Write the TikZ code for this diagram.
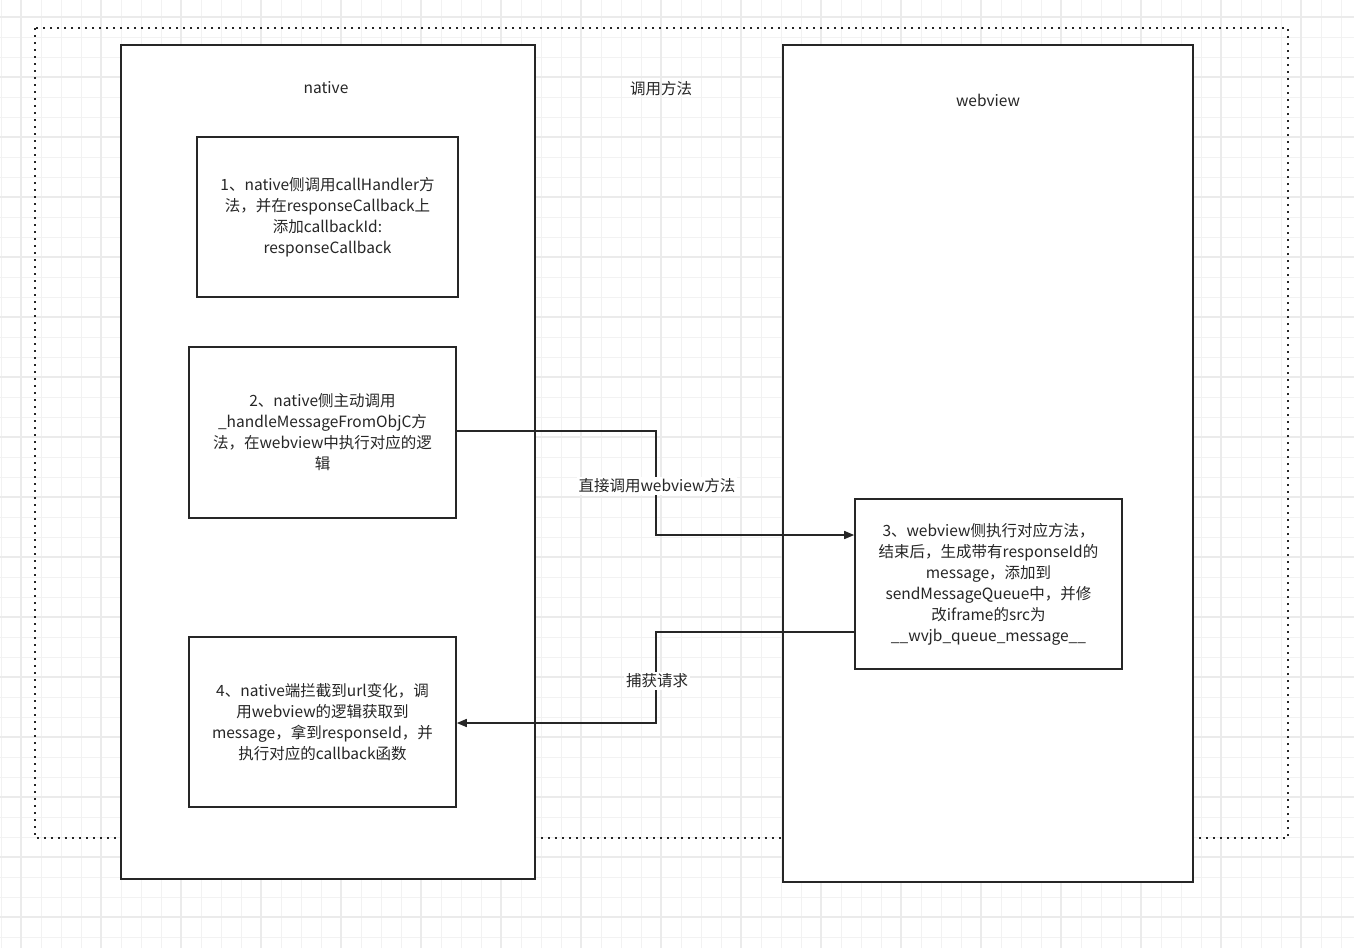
\documentclass[tikz,border=0pt]{standalone}
\usepackage{fontspec}
\setmainfont{Noto Sans CJK SC}
\usetikzlibrary{arrows.meta}
\begin{document}
\begin{tikzpicture}[x=1pt,y=-1pt,
  box/.style={draw=black!85,line width=1.6pt,fill=white},
  txt/.style={font=\fontsize{15.5}{21}\selectfont,text=black!85,align=center},
  conn/.style={draw=black!85,line width=1.5pt,-{Triangle[length=10pt,width=8pt]}},
  lbl/.style={font=\fontsize{15.5}{18}\selectfont,text=black!85,fill=white,inner sep=2pt}]
\useasboundingbox (0,0) rectangle (1354,948);
\fill[white] (0,0) rectangle (1354,948);
\foreach \i in {1,21,...,1354} \draw[black!5,line width=1pt] (\i,0) -- (\i,948);
\foreach \i in {17,37,...,948} \draw[black!5,line width=1pt] (0,\i) -- (1354,\i);
\foreach \i in {21,101,...,1354} \draw[black!8,line width=1.5pt] (\i,0) -- (\i,948);
\foreach \i in {17,77,...,948} \draw[black!8,line width=1.5pt] (0,\i) -- (1354,\i);
\draw[black!85,line width=2pt,dash pattern=on 2pt off 5pt] (35,28) rectangle (1288,838);
\draw[box] (121,45) rectangle (535,879);
\draw[box] (783,45) rectangle (1193,882);
\node[txt] (ln) at (326,88) {native};
\node[txt] (lm) at (661,89) {调用方法};
\node[txt] (lw) at (988,100) {webview};
\node[box,minimum width=261pt,minimum height=160pt,inner sep=0pt] (b1) at (327.5,217) {};
\node[txt] at (b1) {1、native侧调用callHandler方\\法，并在responseCallback上\\添加callbackId:\\responseCallback};
\node[box,minimum width=267pt,minimum height=171pt,inner sep=0pt] (b2) at (322.5,432.5) {};
\node[txt] at (b2) {2、native侧主动调用\\\_handleMessageFromObjC方\\法，在webview中执行对应的逻\\辑};
\node[box,minimum width=267pt,minimum height=170pt,inner sep=0pt] (b3) at (988.5,584) {};
\node[txt] at (b3) {3、webview侧执行对应方法，\\结束后，生成带有responseId的\\message，添加到\\sendMessageQueue中，并修\\改iframe的src为\\\_\_wvjb\_queue\_message\_\_};
\node[box,minimum width=267pt,minimum height=170pt,inner sep=0pt] (b4) at (322.5,722) {};
\node[txt] at (b4) {4、native端拦截到url变化，调\\用webview的逻辑获取到\\message，拿到responseId，并\\执行对应的callback函数};
\draw[conn] (b2.east |- 0,431) -- (656,431) -- (656,535) -- (b3.west |- 0,535);
\draw[conn] (b3.west |- 0,632) -- (656,632) -- (656,723) -- (b4.east |- 0,723);
\node[lbl] (l1) at (657,486) {直接调用webview方法};
\node[lbl] (l2) at (657,681) {捕获请求};
\end{tikzpicture}
\end{document}
